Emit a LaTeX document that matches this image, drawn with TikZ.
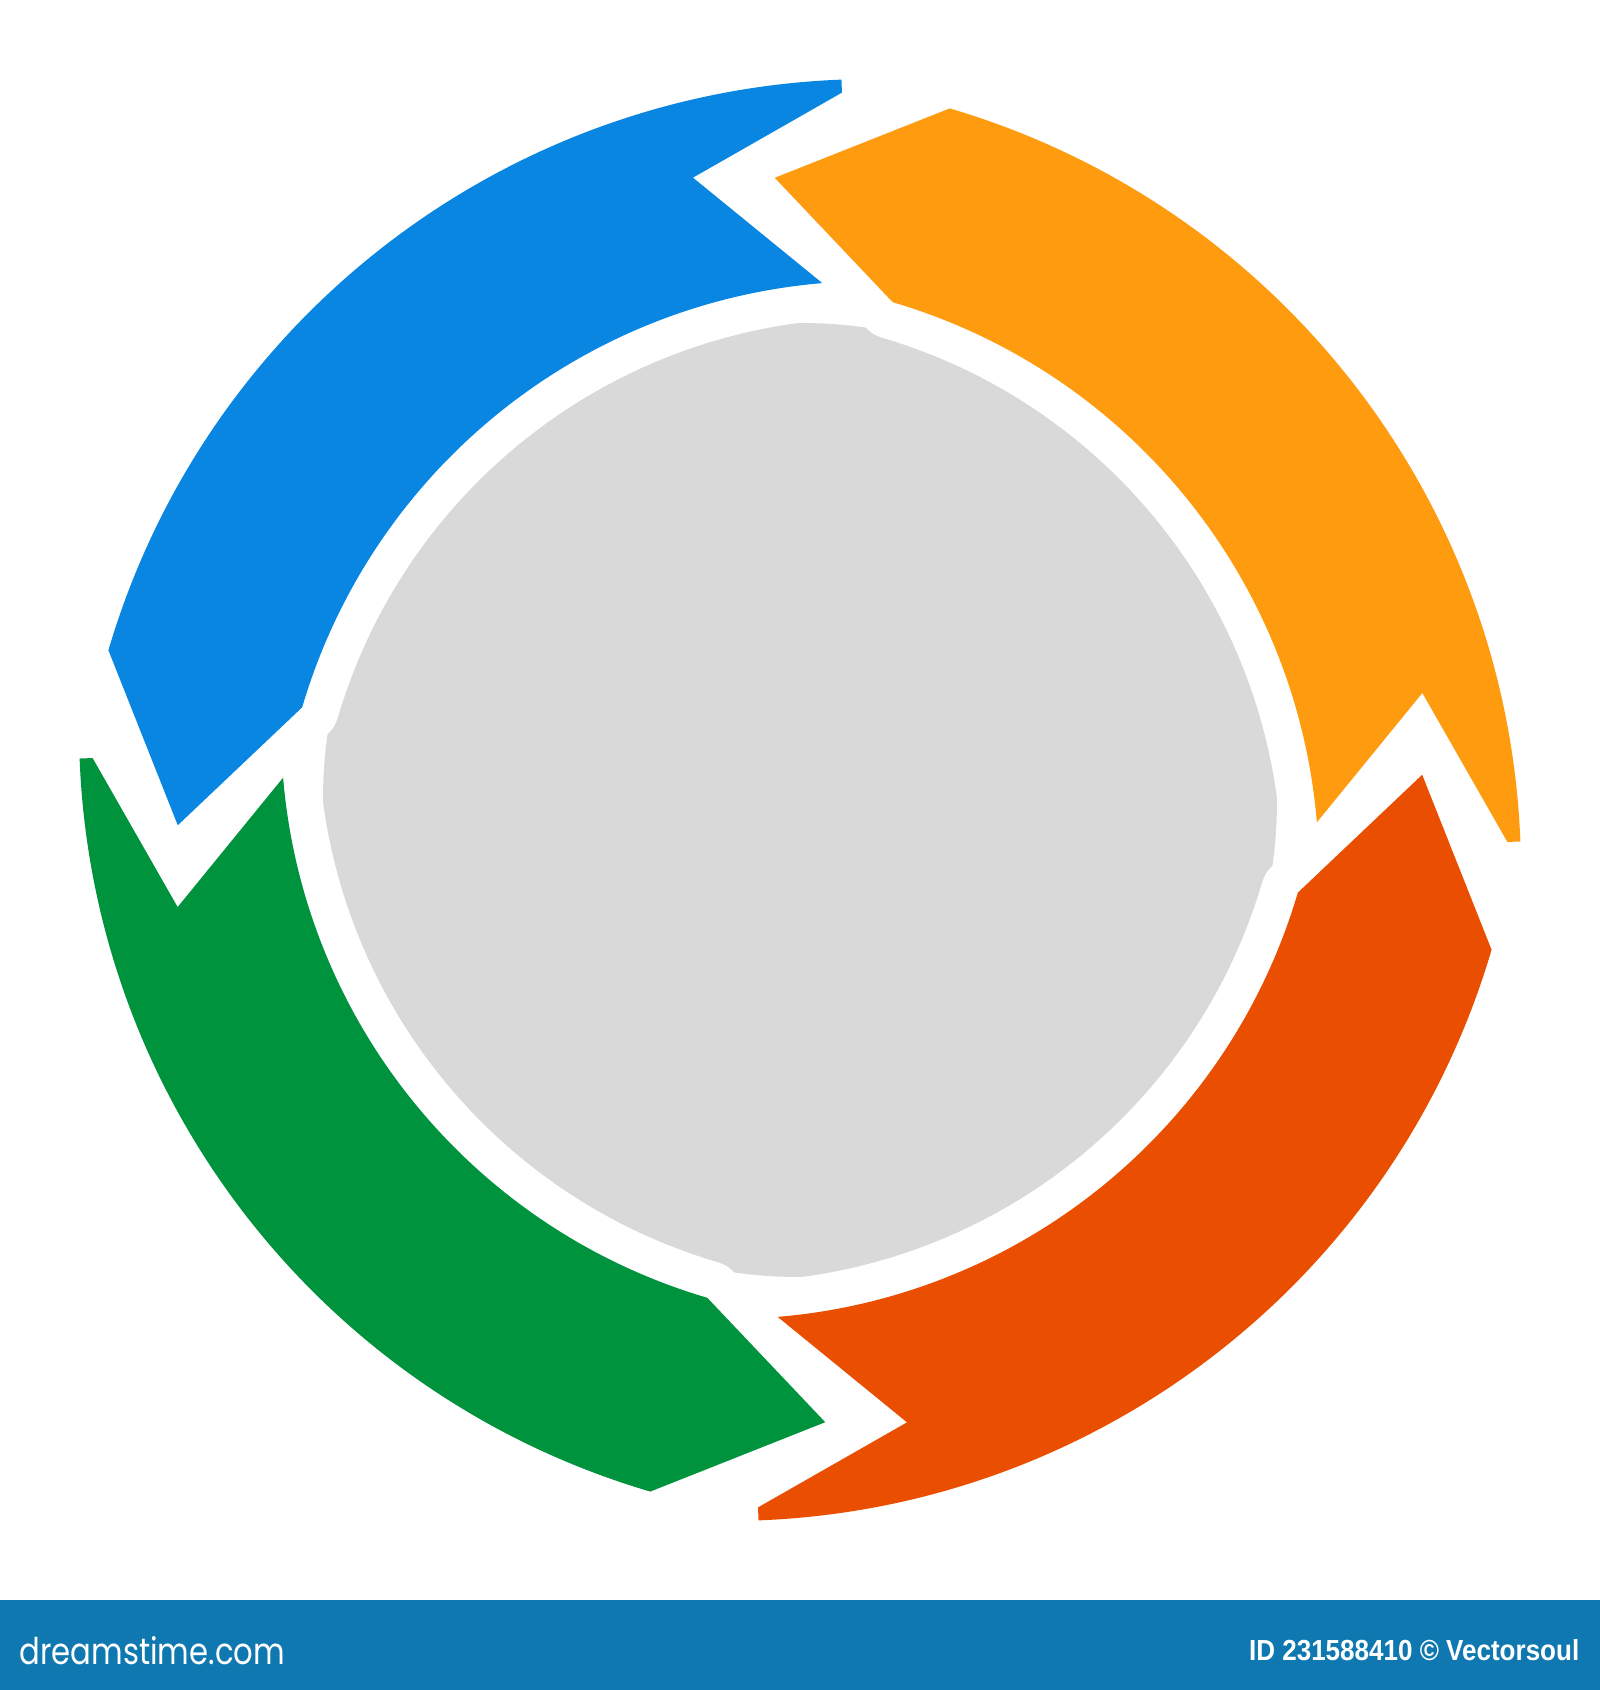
\documentclass[tikz,border=0pt]{standalone}
\usepackage{fontspec}
\setmainfont{Liberation Sans}
\newfontfamily\sitefont{Poppins}
\definecolor{myblue}{RGB}{8,134,226}
\definecolor{mygreen}{RGB}{0,147,62}
\definecolor{myred}{RGB}{234,78,0}
\definecolor{myorange}{RGB}{255,155,15}
\definecolor{mygray}{RGB}{217,217,217}
\definecolor{mybanner}{RGB}{16,120,176}

% one arrow of the ring, in polar coordinates about its own centre
\newcommand{\ringarrow}{(92.2:796) arc[start angle=92.2,end angle=163.6,radius=796]
  -- (175.9:696) -- (163.6:594) arc[start angle=163.6,end angle=94.8,radius=594]
  -- (104.4:720) -- (92.2:783) -- cycle}

\begin{document}
\begin{tikzpicture}[x=0.01cm,y=0.01cm]
\useasboundingbox (-800,-890) rectangle (800,800);
\fill[white] (-800,-890) rectangle (800,800);

\fill[mygray] (0,0) circle (477);

% white halo round the arrows bites into the disc
\foreach \a in {0,90,180,270}
  \filldraw[white,line width=0.74cm,line join=round,rotate=\a,shift={(72,-75)}] \ringarrow;

\foreach \a/\c in {0/myblue,90/mygreen,180/myred,270/myorange}
  \fill[\c,rotate=\a,shift={(72,-75)}] \ringarrow;

\fill[mybanner] (-800,-800) rectangle (800,-890);
\node[anchor=west,text=white,inner sep=0] (site) at (-781,-851)
  {\resizebox{2.65cm}{0.28cm}{\sitefont dreamstime.com}};
\node[anchor=east,text=white,inner sep=0] (credit) at (780,-850)
  {\resizebox{3.3cm}{0.21cm}{\bfseries ID 231588410 © Vectorsoul}};
\end{tikzpicture}
\end{document}
